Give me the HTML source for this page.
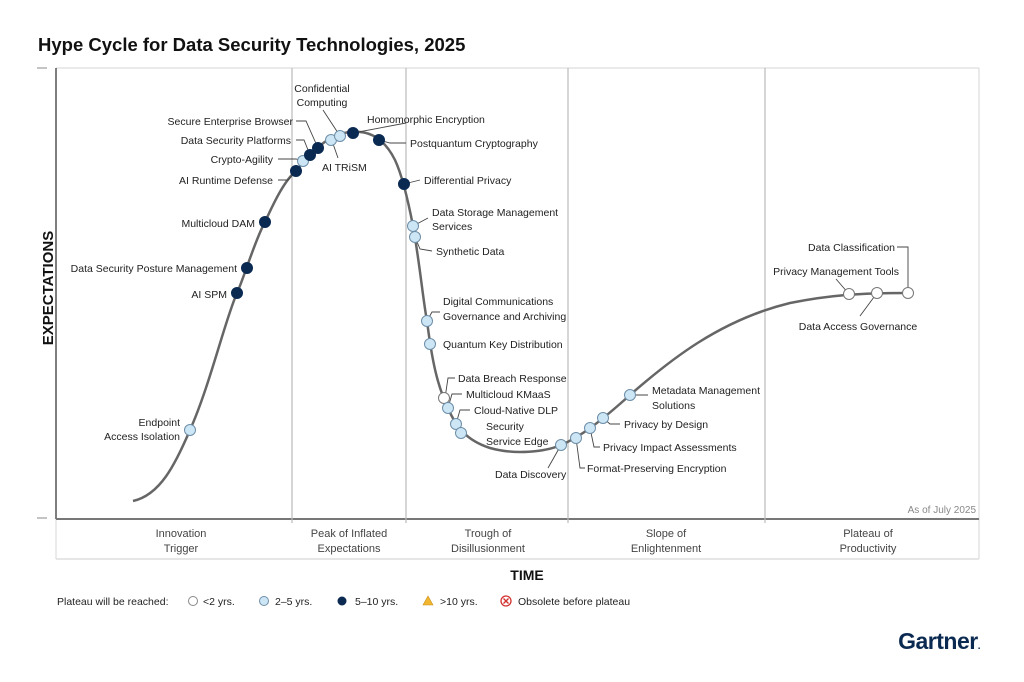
<!DOCTYPE html>
<html><head><meta charset="utf-8"><style>
body{margin:0;background:#fff;width:1024px;height:682px;overflow:hidden}
svg{display:block}
text{font-family:"Liberation Sans",sans-serif;fill:#222}
.l{font-size:10.5px}
.p{font-size:11px;fill:#444;text-anchor:middle}
.ld{stroke:#444;stroke-width:0.9;fill:none}
.d{fill:#0b2a52;stroke:#0b2a52;stroke-width:1}
.b{fill:#cde6f5;stroke:#6d8ea8;stroke-width:1}
.w{fill:#fff;stroke:#777;stroke-width:1}
</style></head><body>
<svg width="1024" height="682" viewBox="0 0 1024 682">
<text x="38" y="51" style="font-size:18.5px;font-weight:bold;fill:#111">Hype Cycle for Data Security Technologies, 2025</text>
<!-- frame -->
<line x1="56" y1="68" x2="979" y2="68" stroke="#ddd" stroke-width="1.2"/>
<line x1="979" y1="68" x2="979" y2="559" stroke="#ddd" stroke-width="1.2"/>
<line x1="56" y1="559" x2="979" y2="559" stroke="#ddd" stroke-width="1.5"/>
<line x1="56" y1="519" x2="56" y2="559" stroke="#ddd" stroke-width="1.2"/>
<line x1="56" y1="68" x2="56" y2="519" stroke="#555" stroke-width="1.5"/>
<line x1="56" y1="519" x2="979" y2="519" stroke="#777" stroke-width="2"/>
<line x1="37" y1="68" x2="47" y2="68" stroke="#888"/>
<line x1="37" y1="518" x2="47" y2="518" stroke="#888"/>
<g stroke="#bbb" stroke-width="1.2">
<line x1="292" y1="68" x2="292" y2="523"/><line x1="406" y1="68" x2="406" y2="523"/>
<line x1="568" y1="68" x2="568" y2="523"/><line x1="765" y1="68" x2="765" y2="523"/>
</g>
<text x="976" y="513" style="font-size:10px;fill:#888;text-anchor:end">As of July 2025</text>
<text class="p" x="181" y="537">Innovation</text><text class="p" x="181" y="552">Trigger</text>
<text class="p" x="349" y="537">Peak of Inflated</text><text class="p" x="349" y="552">Expectations</text>
<text class="p" x="488" y="537">Trough of</text><text class="p" x="488" y="552">Disillusionment</text>
<text class="p" x="666" y="537">Slope of</text><text class="p" x="666" y="552">Enlightenment</text>
<text class="p" x="868" y="537">Plateau of</text><text class="p" x="868" y="552">Productivity</text>
<text x="527" y="580" style="font-size:14px;font-weight:bold;text-anchor:middle;fill:#111">TIME</text>
<text transform="translate(53,288) rotate(-90)" style="font-size:15px;font-weight:bold;text-anchor:middle;fill:#111">EXPECTATIONS</text>
<!-- curve -->
<path d="M133,501 C160,495 175,465 190,430 C210,385 225,320 237,293 C245,275 255,240 265,222 C275,200 285,180 296,171 C305,160 318,145 331,138 C340,133 350,131 360,132 C372,133 385,140 395,160 C402,175 408,200 413,226 C420,265 423,300 427,321 C432,360 437,385 448,408 C455,425 465,440 490,448 C515,455 545,452 561,445 C580,437 600,422 630,395 C670,360 720,320 790,303 C830,295 860,293 908,293" fill="none" stroke="#666" stroke-width="2.5"/>
<!-- leaders -->
<g class="ld">
<path d="M296,121 L306,121 L318,148"/><path d="M296,140 L304,140 L310,155"/>
<path d="M278,159 L296,159 L303,161"/><path d="M278,180 L288,180 L296,171"/>
<path d="M323,110 L340,136"/><path d="M331,138 L338,158"/>
<path d="M353,133 L406,123"/><path d="M379,140 L390,143 L406,143"/>
<path d="M404,184 L420,180"/><path d="M413,226 L428,218"/><path d="M415,237 L420,249 L432,251"/>
<path d="M427,321 L432,312 L440,312"/>
<path d="M445,398 L448,378 L455,378"/><path d="M448,408 L452,394 L462,394"/>
<path d="M456,424 L460,410 L470,410"/>
<path d="M561,445 L548,468"/><path d="M576,438 L580,468 L585,468"/>
<path d="M590,428 L594,447 L600,447"/><path d="M603,418 L610,424 L620,424"/>
<path d="M630,395 L648,395"/>
<path d="M849,294 L836,279"/><path d="M877,293 L860,316"/>
<path d="M897,247 L908,247 L908,293"/>
</g>
<!-- points -->
<circle class="b" cx="190" cy="430" r="5.5"/>
<circle class="d" cx="237" cy="293" r="5.5"/>
<circle class="d" cx="247" cy="268" r="5.5"/>
<circle class="d" cx="265" cy="222" r="5.5"/>
<circle class="d" cx="296" cy="171" r="5.5"/>
<circle class="b" cx="303" cy="161" r="5.5"/>
<circle class="d" cx="310" cy="155" r="5.5"/>
<circle class="d" cx="318" cy="148" r="5.5"/>
<circle class="b" cx="331" cy="140" r="5.5"/>
<circle class="b" cx="340" cy="136" r="5.5"/>
<circle class="d" cx="353" cy="133" r="5.5"/>
<circle class="d" cx="379" cy="140" r="5.5"/>
<circle class="d" cx="404" cy="184" r="5.5"/>
<circle class="b" cx="413" cy="226" r="5.5"/>
<circle class="b" cx="415" cy="237" r="5.5"/>
<circle class="b" cx="427" cy="321" r="5.5"/>
<circle class="b" cx="430" cy="344" r="5.5"/>
<circle class="w" cx="444" cy="398" r="5.5"/>
<circle class="b" cx="448" cy="408" r="5.5"/>
<circle class="b" cx="456" cy="424" r="5.5"/>
<circle class="b" cx="461" cy="433" r="5.5"/>
<circle class="b" cx="561" cy="445" r="5.5"/>
<circle class="b" cx="576" cy="438" r="5.5"/>
<circle class="b" cx="590" cy="428" r="5.5"/>
<circle class="b" cx="603" cy="418" r="5.5"/>
<circle class="b" cx="630" cy="395" r="5.5"/>
<circle class="w" cx="849" cy="294" r="5.5"/>
<circle class="w" cx="877" cy="293" r="5.5"/>
<circle class="w" cx="908" cy="293" r="5.5"/>
<!-- labels -->
<g class="l">
<text x="180" y="426" text-anchor="end">Endpoint</text><text x="180" y="440" text-anchor="end">Access Isolation</text>
<text x="227" y="298" text-anchor="end">AI SPM</text>
<text x="237" y="272" text-anchor="end">Data Security Posture Management</text>
<text x="255" y="227" text-anchor="end">Multicloud DAM</text>
<text x="273" y="184" text-anchor="end">AI Runtime Defense</text>
<text x="273" y="163" text-anchor="end">Crypto-Agility</text>
<text x="291" y="144" text-anchor="end">Data Security Platforms</text>
<text x="293" y="125" text-anchor="end">Secure Enterprise Browser</text>
<text x="322" y="92" text-anchor="middle">Confidential</text><text x="322" y="106" text-anchor="middle">Computing</text>
<text x="367" y="123">Homomorphic Encryption</text>
<text x="322" y="171">AI TRiSM</text>
<text x="410" y="147">Postquantum Cryptography</text>
<text x="424" y="184">Differential Privacy</text>
<text x="432" y="216">Data Storage Management</text><text x="432" y="230">Services</text>
<text x="436" y="255">Synthetic Data</text>
<text x="443" y="305">Digital Communications</text><text x="443" y="320">Governance and Archiving</text>
<text x="443" y="348">Quantum Key Distribution</text>
<text x="458" y="382">Data Breach Response</text>
<text x="466" y="398">Multicloud KMaaS</text>
<text x="474" y="414">Cloud-Native DLP</text>
<text x="486" y="430">Security</text><text x="486" y="445">Service Edge</text>
<text x="495" y="478">Data Discovery</text>
<text x="587" y="472">Format-Preserving Encryption</text>
<text x="603" y="451">Privacy Impact Assessments</text>
<text x="624" y="428">Privacy by Design</text>
<text x="652" y="394">Metadata Management</text><text x="652" y="409">Solutions</text>
<text x="895" y="251" text-anchor="end">Data Classification</text>
<text x="899" y="275" text-anchor="end">Privacy Management Tools</text>
<text x="858" y="330" text-anchor="middle">Data Access Governance</text>
</g>
<!-- legend -->
<g style="font-size:10.5px">
<text x="57" y="605">Plateau will be reached:</text>
<circle cx="193" cy="601" r="4.5" fill="#fff" stroke="#888"/><text x="203" y="605">&lt;2 yrs.</text>
<circle cx="264" cy="601" r="4.5" fill="#cde6f5" stroke="#6d8ea8"/><text x="275" y="605">2–5 yrs.</text>
<circle cx="342" cy="601" r="4.5" fill="#0b2a52"/><text x="355" y="605">5–10 yrs.</text>
<polygon points="428,596 433,605 423,605" fill="#f2b630" stroke="#c8901a" stroke-width="0.6"/><text x="440" y="605">&gt;10 yrs.</text>
<circle cx="506" cy="601" r="5" fill="#fff" stroke="#d32f2f" stroke-width="1.3"/>
<path d="M503.5,598.5 L508.5,603.5 M508.5,598.5 L503.5,603.5" stroke="#d32f2f" stroke-width="1.4"/>
<text x="518" y="605">Obsolete before plateau</text>
</g>
<text x="980" y="649" style="font-size:23px;font-weight:bold;fill:#0b2a52;text-anchor:end;letter-spacing:-0.5px">Gartner<tspan style="font-size:10px">.</tspan></text>
</svg>
</body></html>
